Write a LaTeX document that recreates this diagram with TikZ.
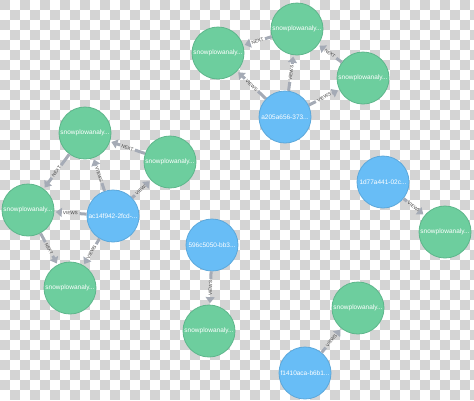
\documentclass[tikz,border=0pt]{standalone}
\usepackage{fontspec}
\setmainfont{Liberation Sans}
\usetikzlibrary{arrows.meta}
\definecolor{gfill}{HTML}{6DCE9E}
\definecolor{gline}{HTML}{5DB68B}
\definecolor{bfill}{HTML}{68BDF6}
\definecolor{bline}{HTML}{5CA8DB}
\definecolor{egrey}{HTML}{A5ABB6}
\definecolor{chk}{HTML}{D4D4D4}
\newcommand\myedge[3]{%
  \path (#1) -- node[elbl] (#1#2) {#3} (#2);
  \draw[rel] (#1) -- (#1#2);
  \draw[relarr] (#1#2) -- (#2);}
\begin{document}
\begin{tikzpicture}[x=1pt,y=-1pt,
  gnode/.style={circle, fill=gfill, draw=gline, line width=0.8pt, minimum size=52pt, inner sep=0pt, text=white, font=\fontsize{6.5}{7.5}\selectfont},
  bnode/.style={gnode, fill=bfill, draw=bline},
  elbl/.style={sloped, font=\fontsize{4.6}{5}\selectfont, text=black!75, inner sep=1.5pt},
  rel/.style={draw=egrey, line width=3pt},
  relarr/.style={rel, -{Triangle[length=6pt,width=9pt]}, shorten >=1.5pt},
]
\useasboundingbox (0,0) rectangle (474,400);
\fill[white] (0,0) rectangle (474,400);
\begin{scope}
\clip (0,0) rectangle (474,400);
\foreach \i in {0,...,47}{
  \foreach \j in {0,...,39}{
    \pgfmathparse{int(mod(\i+\j,2))}
    \ifnum\pgfmathresult=0
      \fill[chk] (\i*10,\j*10) rectangle ++(10,10);
    \fi
  }
}
\end{scope}
% top cluster
\node[gnode] (a) at (218,53) {snowplowanaly...};
\node[gnode] (b) at (297,29) {snowplowanaly...};
\node[gnode] (c) at (363,78) {snowplowanaly...};
\node[bnode] (d) at (285,117) {a205a656-373...};
% left cluster
\node[gnode] (e) at (85,133) {snowplowanaly...};
\node[gnode] (f) at (170,162) {snowplowanaly...};
\node[gnode] (g) at (28,210) {snowplowanaly...};
\node[bnode] (h) at (113,216) {ac14f942-2fcd-...};
\node[gnode] (i) at (70,288) {snowplowanaly...};
% middle
\node[bnode] (j) at (212,245) {596c5050-bb3...};
\node[gnode] (k) at (209,331) {snowplowanaly...};
% right
\node[bnode] (l) at (383,182) {1d77a441-02c...};
\node[gnode] (m) at (445,232) {snowplowanaly...};
% bottom right
\node[gnode] (n) at (358,308) {snowplowanaly...};
\node[bnode] (o) at (305,373) {f1410aca-b6b1...};
% edges
\myedge{b}{a}{NEXT}
\myedge{c}{b}{NEXT}
\myedge{d}{a}{VIEWS}
\myedge{d}{b}{VIEWS}
\myedge{d}{c}{VIEWS}
\myedge{f}{e}{NEXT}
\myedge{e}{g}{NEXT}
\myedge{g}{i}{NEXT}
\myedge{h}{e}{VIEWS}
\myedge{h}{f}{VIEWS}
\myedge{h}{g}{VIEWS}
\myedge{h}{i}{VIEWS}
\myedge{j}{k}{VIEWS}
\myedge{l}{m}{VIEWS}
\myedge{o}{n}{VIEWS}
\end{tikzpicture}
\end{document}
